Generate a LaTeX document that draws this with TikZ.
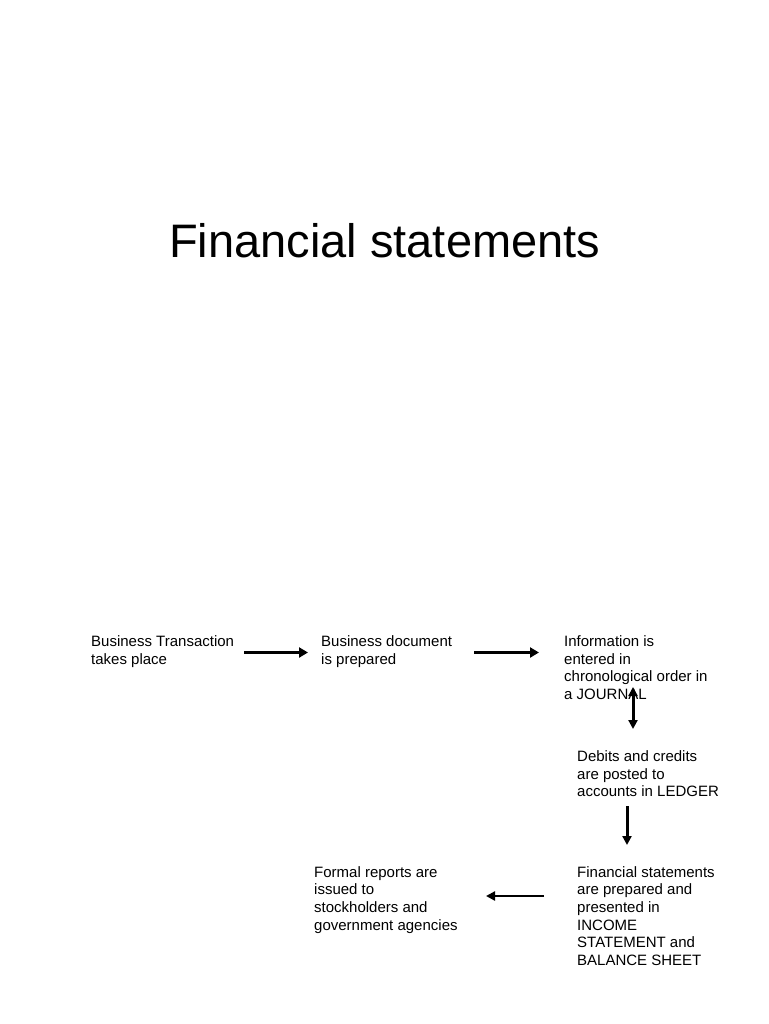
\documentclass[tikz,border=0pt]{standalone}
\usepackage{fontspec}
\setmainfont{Liberation Sans}
\usetikzlibrary{arrows.meta}
\begin{document}
\begin{tikzpicture}[x=1pt,y=-1pt,
  txt/.style={anchor=north west,inner sep=0pt,align=left,font=\fontsize{15}{17.7}\selectfont},
  arr/.style={line width=3.2pt,-{Triangle[length=9pt,width=10pt]}},
  darr/.style={line width=3pt,{Triangle[length=9pt,width=9pt]}-{Triangle[length=9pt,width=9pt]}},
  varr/.style={line width=3pt,-{Triangle[length=9pt,width=9pt]}},
  larr/.style={line width=2.6pt,-{Triangle[length=9pt,width=9pt]}}]
\useasboundingbox[fill=white] (0,0) rectangle (768,1024);
\node[anchor=base west,inner sep=0pt,font=\fontsize{47}{56}\selectfont] (title) at (169,258) {Financial statements};
\node[txt] (a) at (91,635.5) {Business Transaction\\takes place};
\node[txt] (b) at (321,635.5) {Business document\\is prepared};
\node[txt] (c) at (564,635.5) {Information is\\entered in\\chronological order in\\a JOURNAL};
\node[txt] (d) at (577,750.5) {Debits and credits\\are posted to\\accounts in LEDGER};
\node[txt] (e) at (577,866) {Financial statements\\are prepared and\\presented in\\INCOME\\STATEMENT and\\BALANCE SHEET};
\node[txt] (f) at (314,866) {Formal reports are\\issued to\\stockholders and\\government agencies};
\coordinate (ab1) at (244,652.5);
\coordinate (ab2) at (308,652.5);
\coordinate (bc1) at (474,652.5);
\coordinate (bc2) at (539,652.5);
\coordinate (cd1) at (633,687);
\coordinate (cd2) at (633,729);
\coordinate (de1) at (627,806);
\coordinate (de2) at (627,845);
\coordinate (ef1) at (544,896);
\coordinate (ef2) at (486,896);
\draw[arr] (ab1) -- (ab2);
\draw[arr] (bc1) -- (bc2);
\draw[darr] (cd1) -- (cd2);
\draw[varr] (de1) -- (de2);
\draw[larr] (ef1) -- (ef2);
\end{tikzpicture}
\end{document}
